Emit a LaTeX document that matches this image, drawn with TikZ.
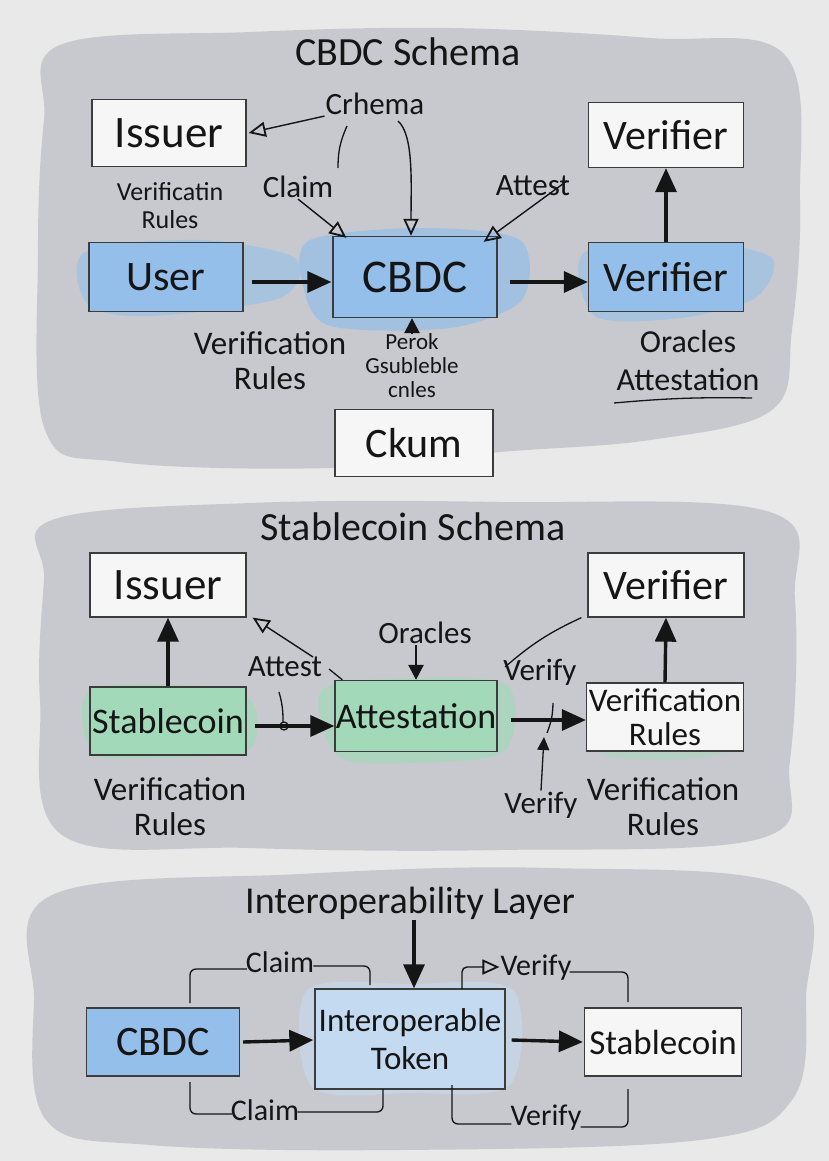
\documentclass[tikz,border=0pt]{standalone}
\usepackage{fontspec}
\setmainfont{Carlito}
\usetikzlibrary{arrows.meta}
\definecolor{paper}{HTML}{E9E9E9}
\definecolor{blob}{HTML}{C7C9CE}
\definecolor{bluef}{HTML}{93BFEA}
\definecolor{lbluef}{HTML}{C4DAF1}
\definecolor{greenf}{HTML}{A2D9B8}
\definecolor{boxwhite}{HTML}{F6F6F6}
\definecolor{ink}{HTML}{151515}
\definecolor{edge}{HTML}{3C3C3C}
\tikzset{
  box/.style={draw=edge, line width=1.3pt, inner sep=0pt, text=ink, align=center,
    font=\fontsize{42}{44}\selectfont},
  lbl/.style={text=ink, align=center, inner sep=1pt, font=\fontsize{31}{33}\selectfont},
  ttl/.style={text=ink, inner sep=1pt, font=\fontsize{40}{42}\selectfont},
  bigarrow/.style={draw=ink, line width=3.4pt, -{Triangle[length=24pt,width=21pt]}},
  midarrow/.style={draw=ink, line width=2.6pt, -{Triangle[length=15pt,width=15pt]}},
  thinarrow/.style={draw=ink, line width=1.4pt, -{Triangle[open,length=17pt,width=15pt,line width=1.8pt]}},
  smallarrow/.style={draw=ink, line width=1.3pt, -{Triangle[length=13pt,width=12pt]}},
  stroke/.style={draw=ink, line width=1.3pt},
  bracket/.style={draw=ink, line width=1.3pt, rounded corners=6pt},
}
\begin{document}
\begin{tikzpicture}[x=1pt,y=-1pt]
\useasboundingbox (0,0) rectangle (829,1161);
\fill[paper] (0,0) rectangle (829,1161);
% background blobs
\fill[blob] plot[smooth cycle, tension=0.6] coordinates {(60,45) (250,32) (450,28) (650,38) (785,55) (800,200) (792,330) (772,410) (650,440) (500,452) (330,468) (120,462) (45,430) (38,250) (44,120)};
\fill[blob] plot[smooth cycle, tension=0.6] coordinates {(52,520) (250,503) (500,502) (770,512) (795,600) (790,760) (762,838) (500,850) (250,848) (62,835) (40,700) (44,580)};
\fill[blob] plot[smooth cycle, tension=0.6] coordinates {(52,895) (300,874) (550,868) (790,888) (806,1000) (792,1100) (700,1140) (400,1150) (150,1145) (46,1120) (34,1000)};
% colour splashes
\fill[bluef, opacity=0.6] plot[smooth cycle] coordinates {(85,252) (200,240) (295,258) (280,298) (150,316) (88,305)};
\fill[bluef, opacity=0.7] plot[smooth cycle] coordinates {(310,240) (420,228) (520,240) (522,300) (450,328) (330,326) (303,285)};
\fill[bluef, opacity=0.6] plot[smooth cycle] coordinates {(585,252) (700,243) (772,258) (755,298) (680,318) (595,316)};
\fill[greenf, opacity=0.7] plot[smooth cycle] coordinates {(90,690) (200,686) (252,702) (248,750) (150,758) (92,752)};
\fill[greenf, opacity=0.7] plot[smooth cycle] coordinates {(322,690) (420,678) (508,686) (503,752) (400,763) (337,755)};
\fill[greenf, opacity=0.45] plot[smooth cycle] coordinates {(600,742) (680,740) (740,748) (680,760) (610,757)};
\fill[lbluef, opacity=0.6] plot[smooth cycle] coordinates {(307,990) (410,984) (513,990) (510,1085) (410,1093) (312,1087)};

% ===== Section 1 =====
\node[ttl] (title1) at (408,52) {CBDC Schema};
\node[box, fill=boxwhite, minimum width=154pt, minimum height=67pt, font=\fontsize{45}{47}\selectfont] (issuer1) at (169,133) {Issuer};
\node[box, fill=bluef, minimum width=154pt, minimum height=69pt] (user) at (166,277) {User};
\node[box, fill=bluef, minimum width=164pt, minimum height=81pt, font=\fontsize{47}{49}\selectfont,
  path picture={\fill[white, opacity=0.8] plot[smooth cycle] coordinates {(345,270) (380,250) (430,252) (470,262) (455,292) (400,302) (352,292)};}] (cbdc1) at (415,277) {CBDC};
\node[box, fill=boxwhite, minimum width=155pt, minimum height=65pt] (verT) at (666,135) {Verifier};
\node[box, fill=bluef, minimum width=155pt, minimum height=69pt] (verB) at (666,277) {Verifier};
\node[box, fill=boxwhite, minimum width=158pt, minimum height=67pt] (ckum) at (414,443) {Ckum};

\node[lbl] (crhema) at (375,104) {Crhema};
\node[lbl] (claim1) at (298,187) {Claim};
\node[lbl, font=\fontsize{26}{28}\selectfont] (vrsmall) at (170,206) {Verificatin\\Rules};
\node[lbl] (attest1) at (533,186) {Attest};
\node[lbl, font=\fontsize{33}{35}\selectfont] (vr1) at (270,361) {Verification\\Rules};
\node[lbl, font=\fontsize{23}{24}\selectfont] (perok) at (412,366) {Perok\\Gsubleble\\cnles};
\node[lbl, font=\fontsize{32}{38}\selectfont] (oracatt) at (688,361) {Oracles\\Attestation};

\coordinate (c1a) at (347,126);
\coordinate (c1b) at (338,168);
\coordinate (c1c) at (398,121);
\coordinate (ul1) at (614,403);
\coordinate (ul2) at (752,398);

\draw[thinarrow] (crhema.south west) -- ([xshift=2pt]issuer1.east);
\draw[stroke] (c1a) to[bend right=12] (c1b);
\draw[thinarrow] (c1c) .. controls (414,135) and (411,185) .. ([xshift=-4pt]cbdc1.north);
\draw[thinarrow] (claim1.south) -- ([xshift=14pt,yshift=-2pt]cbdc1.north west);
\draw[thinarrow] ([xshift=-4pt,yshift=-6pt]attest1.north east) -- ([xshift=-14pt,yshift=-6pt]cbdc1.north east);
\draw[bigarrow] ([xshift=8pt,yshift=-5pt]user.east) -- ([xshift=-1pt,yshift=-5pt]cbdc1.west);
\draw[bigarrow] ([xshift=12pt,yshift=-5pt]cbdc1.east) -- ([yshift=-5pt]verB.west);
\draw[bigarrow] (verB.north) -- (verT.south);
\draw[midarrow] (perok.north) -- ([xshift=-3pt]cbdc1.south);
\draw[stroke] (ul1) to[bend left=3] (ul2);

% ===== Section 2 =====
\node[ttl] (title2) at (413,527) {Stablecoin Schema};
\node[box, fill=boxwhite, minimum width=156pt, minimum height=64pt, font=\fontsize{45}{47}\selectfont] (issuer2) at (168,585) {Issuer};
\node[box, fill=boxwhite, minimum width=156pt, minimum height=64pt] (ver2) at (666,585) {Verifier};
\node[box, fill=greenf, minimum width=156pt, minimum height=68pt, font=\fontsize{36}{38}\selectfont] (stable2) at (168,721) {Stablecoin};
\node[box, fill=greenf, minimum width=162pt, minimum height=71pt, font=\fontsize{36}{38}\selectfont] (attest2) at (416,716) {Attestation};
\node[box, fill=boxwhite, minimum width=157pt, minimum height=68pt, font=\fontsize{33}{34}\selectfont] (vrules2) at (665,717) {Verification\\Rules};

\node[lbl] (oracles2) at (425,633) {Oracles};
\node[lbl] (attestlbl) at (285,667) {Attest};
\node[lbl] (verify2a) at (540,672) {Verify};
\node[lbl] (verify2b) at (541,805) {Verify};
\node[lbl, font=\fontsize{33}{35}\selectfont] (vr2L) at (170,807) {Verification\\Rules};
\node[lbl, font=\fontsize{33}{35}\selectfont] (vr2R) at (663,807) {Verification\\Rules};

\coordinate (g1) at (329,669);
\coordinate (g2) at (313,657);
\coordinate (h1) at (279,692);
\coordinate (h2) at (283,722);
\coordinate (hc) at (284,726);
\coordinate (v2a) at (505,667);
\coordinate (k1) at (553,703);
\coordinate (k2) at (547,733);
\coordinate (k3) at (544,737);

\draw[bigarrow] (stable2.north) -- (issuer2.south);
\draw[stroke] ([xshift=8pt]attest2.north west) -- (g1);
\draw[thinarrow] (g2) -- ([xshift=6pt]issuer2.south east);
\draw[stroke] (h1) to[bend left=8] (h2);
\draw[stroke] (hc) circle (4);
\draw[bigarrow] ([xshift=8pt,yshift=-5pt]stable2.east) -- ([yshift=-10pt]attest2.west);
\draw[midarrow] ([xshift=-9pt]oracles2.south) -- (attest2.north);
\draw[bigarrow] ([xshift=13pt,yshift=-4pt]attest2.east) -- ([yshift=-3pt]vrules2.west);
\draw[bigarrow] (vrules2.north) -- (ver2.south);
\draw[stroke] ([xshift=-6pt]ver2.south west) to[bend right=8] (v2a);
\draw[stroke] (k1) to[bend left=10] (k2);
\draw[smallarrow] (verify2b.north) -- (k3);

% ===== Section 3 =====
\node[ttl, font=\fontsize{38}{40}\selectfont] (title3) at (410,903) {Interoperability Layer};
\node[box, fill=bluef, minimum width=153pt, minimum height=68pt] (cbdc3) at (163,1042) {CBDC};
\node[box, fill=lbluef, minimum width=190pt, minimum height=100pt, font=\fontsize{33}{38}\selectfont] (token) at (410,1039) {Interoperable\\Token};
\node[box, fill=boxwhite, minimum width=157pt, minimum height=68pt, font=\fontsize{35}{37}\selectfont] (stable3) at (663,1042) {Stablecoin};

\node[lbl, font=\fontsize{30}{32}\selectfont] (claim3t) at (280,962) {Claim};
\node[lbl, font=\fontsize{30}{32}\selectfont] (verify3t) at (536,968) {Verify};
\node[lbl, font=\fontsize{30}{32}\selectfont] (claim3b) at (265,1110) {Claim};
\node[lbl, font=\fontsize{30}{32}\selectfont] (verify3b) at (546,1118) {Verify};

\coordinate (tl1) at (190,1003);
\coordinate (tr1) at (370,985);
\coordinate (tk1) at (462,989);
\coordinate (tr3) at (628,1002);
\coordinate (bl1) at (190,1082);
\coordinate (bl2) at (383,1089);
\coordinate (br1) at (452,1085);
\coordinate (br2) at (628,1089);

\draw[bigarrow] ([xshift=4pt]title3.south) -- ([xshift=4pt]token.north);
\draw[bigarrow] ([xshift=3pt]cbdc3.east) -- ([xshift=-1pt,yshift=-1pt]token.west);
\draw[bigarrow] ([xshift=6pt,yshift=-1pt]token.east) -- ([xshift=-1pt]stable3.west);
\draw[bracket] (tl1) |- ([xshift=2pt,yshift=-7pt]claim3t.west);
\draw[bracket] ([xshift=-2pt,yshift=-4pt]claim3t.east) -| (tr1);
\draw[thinarrow, rounded corners=5pt] (tk1) |- ([yshift=1pt]verify3t.west);
\draw[bracket] ([xshift=-3pt,yshift=-4pt]verify3t.east) -| (tr3);
\draw[bracket] (bl1) |- ([xshift=2pt,yshift=-4pt]claim3b.west);
\draw[bracket] ([xshift=-3pt,yshift=-2pt]claim3b.east) -| (bl2);
\draw[bracket] (br1) |- ([xshift=2pt,yshift=-6pt]verify3b.west);
\draw[bracket] ([xshift=-2pt,yshift=-9pt]verify3b.east) -| (br2);
\end{tikzpicture}
\end{document}
